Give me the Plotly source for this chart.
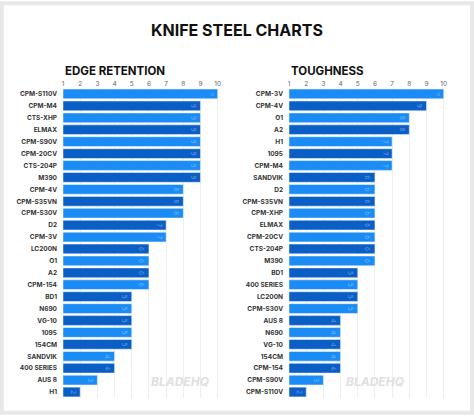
import plotly.graph_objects as go
from plotly.subplots import make_subplots

edge_steels = ["CPM-S110V", "CPM-M4", "CTS-XHP", "ELMAX", "CPM-S90V", "CPM-20CV", "CTS-204P", "M390",
               "CPM-4V", "CPM-S35VN", "CPM-S30V", "D2", "CPM-3V", "LC200N", "O1", "A2", "CPM-154",
               "BD1", "N690", "VG-10", "1095", "154CM", "SANDVIK", "400 SERIES", "AUS 8", "H1"]
edge_values = [10, 9, 9, 9, 9, 9, 9, 9, 8, 8, 8, 7, 7, 6, 6, 6, 6, 5, 5, 5, 5, 5, 4, 4, 3, 2]

tough_steels = ["CPM-3V", "CPM-4V", "O1", "A2", "H1", "1095", "CPM-M4", "SANDVIK", "D2", "CPM-S35VN",
                "CPM-XHP", "ELMAX", "CPM-20CV", "CTS-204P", "M390", "BD1", "400 SERIES", "LC200N",
                "CPM-S30V", "AUS 8", "N690", "VG-10", "154CM", "CPM-154", "CPM-S90V", "CPM-S110V"]
tough_values = [10, 9, 8, 8, 7, 7, 7, 6, 6, 6, 6, 6, 6, 6, 6, 5, 5, 5, 5, 4, 4, 4, 4, 4, 3, 2]

ticks = list(range(1, 11))
LIGHT = "#1b8cf5"
DARK = "#0a5fc6"
W, H = 474, 416

fig = make_subplots(rows=1, cols=2)

for col, (names, vals) in enumerate([(edge_steels, edge_values), (tough_steels, tough_values)], start=1):
    colors = [LIGHT if i % 2 == 0 else DARK for i in range(len(vals))]
    fig.add_trace(go.Bar(
        y=names, x=[v - 1 for v in vals], base=1, orientation="h",
        marker=dict(color=colors, line=dict(color="rgba(255,255,255,0.6)", width=0.8)),
        text=vals, textposition="inside", insidetextanchor="end",
        textfont=dict(size=7, color="rgba(255,255,255,0.4)", family="Open Sans"),
        width=0.82, hoverinfo="skip",
    ), row=1, col=col)
    fig.update_yaxes(autorange="reversed", categoryorder="array", categoryarray=names,
                     tickfont=dict(size=6.5, color="#333", family="Inter", weight="bold"), ticks="",
                     showgrid=False, ticklabelstandoff=5, domain=[1 - 398 / H, 1 - 88 / H],
                     row=1, col=col)
    fig.update_xaxes(range=[1, 10.25], tickvals=ticks, side="top",
                     tickfont=dict(size=6.5, color="#666", family="Inter"),
                     showgrid=True, gridcolor="#eeeeee", zeroline=False, row=1, col=col)

fig.update_xaxes(domain=[63 / W, 222 / W], row=1, col=1)
fig.update_xaxes(domain=[289 / W, 448 / W], row=1, col=2)

fig.update_layout(
    width=W, height=H, showlegend=False,
    paper_bgcolor="white", plot_bgcolor="white",
    margin=dict(l=0, r=0, t=0, b=0),
    shapes=[dict(type="rect", xref="paper", yref="paper", x0=0.004, x1=0.996, y0=0.008, y1=0.992,
                 line=dict(color="#e8e8e8", width=4))],
    annotations=[
        dict(text="<b>KNIFE STEEL CHARTS</b>", xref="paper", yref="paper", x=0.5, y=1 - 18 / H,
             showarrow=False, font=dict(size=16, color="#111", family="Inter")),
        dict(text="<b>EDGE RETENTION</b>", xref="paper", yref="paper", x=63 / W, y=1 - 62 / H,
             xanchor="left", showarrow=False, font=dict(size=11.5, color="#111", family="Inter")),
        dict(text="<b>TOUGHNESS</b>", xref="paper", yref="paper", x=289 / W, y=1 - 62 / H,
             xanchor="left", showarrow=False, font=dict(size=11.5, color="#111", family="Inter")),
        dict(text="<b><i>BLADEHQ</i></b>", xref="paper", yref="paper", x=180 / W, y=1 - 391 / H,
             showarrow=False, font=dict(size=12, color="#e0e0e0", family="Inter")),
        dict(text="<b><i>BLADEHQ</i></b>", xref="paper", yref="paper", x=406 / W, y=1 - 391 / H,
             showarrow=False, font=dict(size=12, color="#e0e0e0", family="Inter")),
    ],
)

fig.write_html("out.html", config={"displayModeBar": False},
               post_script="document.body.style.margin='0';")
